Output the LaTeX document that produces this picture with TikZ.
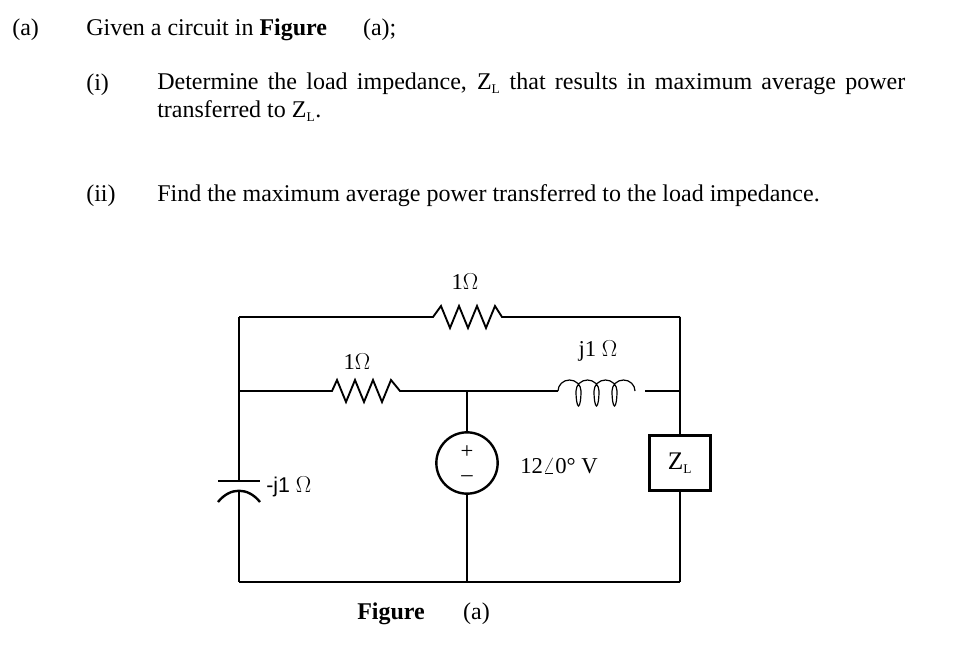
\documentclass[tikz,border=0pt]{standalone}
\usepackage{fontspec}
\setmainfont{Liberation Serif}
\setsansfont{Liberation Sans}
\usetikzlibrary{calc}
\newcommand{\ZL}{Z\textsubscript{\normalsize L}}
\begin{document}
\begin{tikzpicture}[x=0.75pt,y=-0.75pt,
  txt/.style={anchor=west,inner sep=0,font=\fontsize{18}{21}\selectfont},
  lab/.style={inner sep=0,font=\fontsize{17}{20}\selectfont},
  wire/.style={line width=1.4pt}]
\useasboundingbox (0,0) rectangle (963,656);
\node[txt] (ta) at (12,30) {(a)};
\node[txt] (tg) at (86,30) {Given a circuit in \textbf{Figure}\hspace{1.5em}(a);};
\node[txt] (ti) at (86,85) {(i)};
\node[txt,anchor=north west] (tp) at (157,73) {\parbox{561pt}{\fontsize{18}{21}\selectfont Determine the load impedance, \ZL{} that results in maximum average power transferred to \ZL.}};
\node[txt] (tii) at (86,196) {(ii)};
\node[txt] (tf) at (157,196) {Find the maximum average power transferred to the load impedance.};
\coordinate (TL) at (239,317); \coordinate (TR) at (680,317);
\coordinate (ML) at (239,391); \coordinate (MR) at (680,391);
\coordinate (BL) at (239,582); \coordinate (BR) at (680,582);
\coordinate (MS) at (467,391); \coordinate (BS) at (467,582);
\draw[wire] (TL) -- (433,317) -- (441,306) -- (450,328) -- (459,306) -- (468,328) -- (477,306) -- (486,328) -- (495,306) -- (502,317) -- (TR);
\node[lab] (r1) at (465,282) {1$\Omega$};
\draw[wire] (ML) -- (332,391) -- (337,380) -- (346,402) -- (355,380) -- (364,402) -- (373,380) -- (382,402) -- (391,380) -- (400,391) -- (MS);
\node[lab] (r2) at (357,362) {1$\Omega$};
\draw[wire] (MS) -- (558,391);
\draw[line width=0.9pt] (558,391) arc (180:360:11.5 and 11) arc(0:180:2.5 and 15) arc (180:360:11.5 and 11) arc(0:180:2.5 and 15) arc (180:360:11.5 and 11) arc(0:180:2.5 and 15) arc (180:360:11.5 and 11);
\draw[wire] (645,391) -- (MR);
\node[lab] (li) at (598,351) {j1 $\Omega$};
\node[draw,line width=1.8pt,minimum width=46pt,minimum height=41pt,inner sep=0,font=\fontsize{19}{22}\selectfont] (zl) at (680,463) {\ZL};
\draw[wire] (TR) -- (zl.north);
\draw[wire] (zl.south) -- (BR);
\node[draw,circle,line width=1.8pt,minimum size=46pt,inner sep=0] (vs) at (467,463) {};
\node[lab] (plus) at (467,452) {+};
\node[lab] (minus) at (467,479) {--};
\draw[wire] (MS) -- (vs.north);
\draw[wire] (vs.south) -- (BS);
\node[lab,anchor=west] (vl) at (520,466) {12$\angle$0\textdegree\ V};
\draw[wire] (TL) -- (239,481);
\draw[line width=1.8pt] (218,481) -- (260,481);
\draw[line width=1.8pt] (218,502) .. controls (230,487) and (248,487) .. (260,502);
\draw[wire] (239,492) -- (BL);
\node[lab,anchor=west,font=\sffamily\fontsize{16}{19}\selectfont] (cl) at (266,487) {-j1 $\Omega$};
\draw[wire] (BL) -- (BR);
\node[txt] (fig) at (357,614) {\textbf{Figure}\hspace{1.6em}(a)};
\end{tikzpicture}
\end{document}
